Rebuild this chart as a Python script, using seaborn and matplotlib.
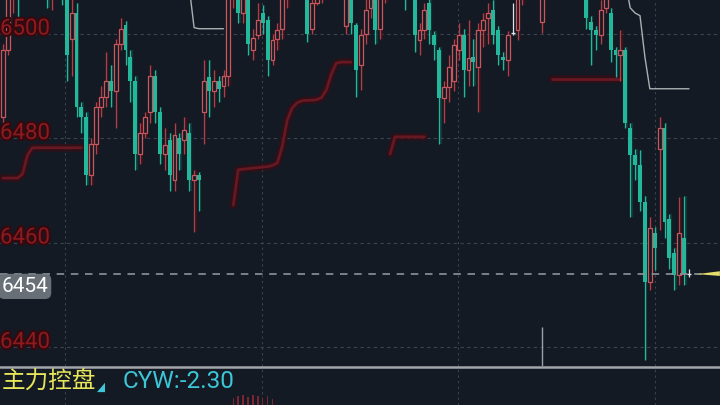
import numpy as np
import pandas as pd
import matplotlib
matplotlib.use('Agg')
import matplotlib.pyplot as plt
import matplotlib.patheffects as pe
from matplotlib.patches import Polygon
import seaborn as sns

# candle data (one bar per slot, left to right)
opens = [6484, 6497, 6507, 6510, 6508, 6513, 6515, 6513, 6514, 6511,
         6509, 6511, 6513, 6512, 6499, 6504, 6486, 6484, 6473, 6479,
         6486, 6488, 6491, 6489, 6498, 6501.7, 6495.6, 6491, 6477, 6481,
         6485, 6492, 6485, 6477, 6479.7, 6472, 6480, 6479.7, 6481, 6472,
         6473, 6485, 6491.8, 6489, 6491, 6490, 6492, 6507, 6512, 6504,
         6508, 6497, 6499.8, 6504, 6502.7, 6495, 6499, 6501, 6507, 6511,
         6514, 6510, 6511, 6501, 6506, 6507, 6511, 6513, 6510, 6512,
         6501.5, 6510, 6501.7, 6494, 6500, 6505, 6509, 6501, 6508, 6513,
         6516, 6514, 6512, 6509, 6513, 6498.8, 6500.8, 6505.9, 6499.8, 6496.9,
         6487.7, 6489.8, 6491, 6496.9, 6499.8, 6493.1, 6495.6, 6493.7, 6500.8, 6503,
         6504.6, 6500.8, 6495.6, 6495, 6500.2, 6500.8, 6507, 6512, 6514, 6511,
         6502.2, 6509, 6513, 6516, 6518, 6515, 6513, 6514, 6511, 6510,
         6502.2, 6500.8, 6499.8, 6505, 6504, 6496.9, 6496, 6496.9, 6482, 6476.8,
         6474.9, 6467.8, 6452.4, 6461.9, 6478, 6482, 6464.6, 6458, 6453.8, 6461,
         6454]
highs = [6498, 6510, 6512, 6514, 6515, 6517, 6518, 6516, 6517, 6513,
         6512, 6515, 6515, 6514, 6507, 6506, 6487, 6485, 6480, 6487,
         6490, 6496.5, 6494, 6499, 6503, 6502.5, 6497, 6492, 6483, 6485,
         6494, 6493, 6486, 6482, 6481, 6483, 6481, 6484, 6483, 6474,
         6473.5, 6495, 6495, 6493, 6492, 6493, 6510, 6514, 6513, 6510,
         6509, 6501, 6506, 6505.5, 6503.5, 6500, 6502, 6510, 6514, 6517,
         6516, 6513, 6512, 6509, 6510, 6513, 6515, 6516, 6514, 6514,
         6510, 6511, 6502, 6501, 6507, 6511, 6510, 6510, 6515, 6518,
         6520, 6517, 6514, 6515, 6514, 6502, 6506, 6507, 6500.5, 6497.5,
         6491, 6496, 6499, 6502, 6501, 6502.7, 6499, 6502, 6504, 6506,
         6506.5, 6501.5, 6496.5, 6500.5, 6506, 6510, 6514, 6516, 6517, 6514,
         6512, 6515, 6518, 6520, 6521, 6518, 6516, 6517, 6514, 6512,
         6503.5, 6501.5, 6506.5, 6510, 6505, 6497.5, 6500.8, 6497.5, 6483, 6478,
         6477.8, 6469, 6465, 6463, 6484, 6483, 6465.5, 6459, 6468.8, 6469,
         6455]
lows = [6483, 6496, 6504, 6503, 6507, 6511, 6512, 6510, 6510, 6505,
        6504.5, 6508, 6505.5, 6491, 6492, 6484, 6481, 6471, 6471, 6477,
        6484, 6486, 6486, 6482, 6497, 6494, 6487, 6474, 6475, 6480,
        6483, 6483, 6475, 6474, 6470, 6470, 6474, 6477, 6470, 6462,
        6466, 6479, 6484, 6486, 6487, 6488, 6490, 6505, 6502, 6502,
        6496, 6495, 6499, 6500, 6492, 6494, 6497, 6499, 6505, 6509,
        6508, 6507, 6498.5, 6500, 6505.5, 6506, 6508, 6509, 6508, 6507,
        6500, 6500, 6488, 6489.3, 6498, 6503, 6498, 6499, 6506, 6510,
        6513, 6509, 6504.5, 6508, 6496.5, 6496, 6499, 6498, 6495, 6479,
        6483, 6487, 6489, 6495, 6488, 6490, 6490, 6485, 6497.5, 6498,
        6498, 6494, 6493, 6492, 6499.8, 6498.8, 6505.5, 6509, 6510, 6507,
        6500.2, 6507, 6510, 6513, 6514, 6511, 6509, 6510, 6508, 6501,
        6494, 6497, 6498, 6504, 6494.6, 6491.8, 6491, 6482, 6465, 6472,
        6466, 6437.5, 6451, 6454.8, 6462.5, 6461, 6455, 6451, 6452, 6452,
        6453.5]
closes = [6497, 6507, 6510, 6508, 6513, 6515, 6513, 6514, 6511, 6509,
          6511, 6513, 6512, 6496, 6504, 6486, 6484, 6473, 6479, 6486,
          6488, 6491, 6489, 6498, 6501, 6497, 6491, 6477, 6481, 6484,
          6492, 6485, 6477, 6478.7, 6473, 6480.6, 6477, 6481.6, 6472, 6473,
          6472, 6491, 6489, 6491, 6489.5, 6492, 6507, 6512, 6504, 6508,
          6498, 6499.2, 6502.7, 6502, 6495, 6498.8, 6500.8, 6507, 6511, 6514,
          6510, 6511, 6500, 6506, 6507, 6511, 6513, 6510, 6512, 6508,
          6508, 6502, 6493, 6499.8, 6504.6, 6509, 6500.8, 6508, 6513, 6516,
          6514, 6512, 6509, 6513, 6499.8, 6500.8, 6504.6, 6500.8, 6497.9, 6487.7,
          6489.8, 6493.7, 6497.9, 6499.8, 6493.1, 6495.4, 6494.6, 6500.8, 6502.7, 6504,
          6499.8, 6496, 6495, 6499.8, 6500.2, 6507, 6512, 6514, 6511, 6509,
          6509, 6513, 6516, 6518, 6515, 6513, 6514, 6511, 6510, 6503,
          6500.8, 6499.8, 6504.6, 6508, 6496.9, 6496, 6496.9, 6483, 6476.8, 6474.9,
          6467.8, 6452.4, 6462.8, 6459, 6482, 6464, 6457, 6453.8, 6461.9, 6454,
          6454]

# stepped support line (dark red), in pieces
support_segments = [
    ([0, 1, 2, 3, 4, 5, 6, 7, 8, 9, 10, 11, 12, 13, 14, 15, 16],
     [6472.4, 6472.4, 6472.4, 6472.4, 6473.2, 6476.8, 6478.2, 6478.2, 6478.2,
      6478.2, 6478.2, 6478.2, 6478.2, 6478.2, 6478.2, 6478.2, 6478.2]),
    ([47, 48, 49, 50, 51, 52, 53, 54, 55, 56, 57, 58, 59, 60, 61, 62, 63, 64,
      65, 66, 67, 68, 69, 70, 71],
     [6467.2, 6474.0, 6474.1, 6474.2, 6474.3, 6474.4, 6474.5, 6474.6, 6474.8,
      6475.3, 6478.5, 6483.5, 6485.8, 6486.8, 6487.2, 6487.3, 6487.3, 6487.4,
      6487.8, 6489.3, 6492.3, 6494.4, 6494.6, 6494.6, 6494.6]),
    ([79, 80, 81, 82, 83, 84, 85, 86],
     [6477.0, 6480.3, 6480.3, 6480.3, 6480.3, 6480.3, 6480.3, 6480.3]),
    ([112, 113, 114, 115, 116, 117, 118, 119, 120, 121, 122, 123, 124, 125, 126],
     [6491.4, 6491.4, 6491.4, 6491.4, 6491.4, 6491.4, 6491.4, 6491.4, 6491.4,
      6491.4, 6491.4, 6491.4, 6491.4, 6491.4, 6491.4]),
]
# thin grey resistance line
resist_segments = [
    ([38, 39, 40, 41, 42, 43, 44, 45],
     [6509, 6501.2, 6501.0, 6501.0, 6501.0, 6501.0, 6501.0, 6501.0]),
    ([127, 128, 129, 130, 131, 132, 133, 134, 135, 136, 137, 138, 139, 140],
     [6510, 6505, 6504, 6503.5, 6495.6, 6489.5, 6489.5, 6489.5, 6489.5,
      6489.5, 6489.5, 6489.5, 6489.5, 6489.5]),
]

last_price = 6454
grid_levels = [6500, 6480, 6460, 6440]
time_marks = [12.7, 52.9, 92.9, 133.1]
marker_idx = 110
marker_top = 6443.9
ind_idx = [47, 48, 49, 50, 51, 52, 53, 54, 55]
ind_vals = [7, 9, 10, 8, 10, 9, 7, 9, 6]
cyw = -2.30

bg = '#131a24'
teal = '#23b89c'
red_edge = '#cc565c'
red_wick = '#a6434b'
grid_col = '#3a4350'

sns.set_theme(style='dark', rc={'axes.facecolor': bg, 'figure.facecolor': bg})
plt.rcParams['font.family'] = ['Roboto', 'DejaVu Sans']

fig = plt.figure(figsize=(7.2, 4.05), dpi=100)
ax = fig.add_axes([0, 39 / 405, 1, 366 / 405])
ax2 = fig.add_axes([0, 0, 1, 39 / 405], sharex=ax)
for a in (ax, ax2):
    a.set_facecolor(bg)
    a.set_axis_off()

df = pd.DataFrame({'o': opens, 'h': highs, 'l': lows, 'c': closes})
df['i'] = np.arange(len(df))
up = df[df.c > df.o]
dn = df[df.c < df.o]
fl = df[df.c == df.o]
w = 0.8

# grid
for lv in grid_levels:
    ax.axhline(lv, color=grid_col, lw=0.8, dashes=(3, 3), zorder=1)
for t in time_marks:
    ax.axvline(t, color=grid_col, lw=0.8, dashes=(2, 3), zorder=1)
    ax2.axvline(t, color=grid_col, lw=0.8, dashes=(2, 3), zorder=1)

# support / resistance
for xs, ys in support_segments:
    sns.lineplot(x=xs, y=ys, ax=ax, color='#3a0c14', lw=5.5, alpha=0.7, zorder=2,
                 solid_joinstyle='round', solid_capstyle='round')
    sns.lineplot(x=xs, y=ys, ax=ax, color='#661823', lw=2, zorder=2,
                 solid_joinstyle='round', solid_capstyle='round')
for xs, ys in resist_segments:
    sns.lineplot(x=xs, y=ys, ax=ax, color='#a9b0b2', lw=1, zorder=2)

# candles
ax.vlines(dn.i + 0.3, dn.l, dn.h, color='#124a44', lw=1.6, alpha=0.6, zorder=3)
ax.vlines(dn.i, dn.l, dn.h, color=teal, lw=0.9, zorder=3)
ax.bar(dn.i, (dn.o - dn.c), bottom=dn.c, width=w, color=teal, lw=0, zorder=4)
ax.vlines(up.i + 0.3, up.l, up.h, color='#4a1018', lw=1.6, alpha=0.7, zorder=3)
ax.vlines(up.i, up.l, up.h, color=red_wick, lw=0.9, zorder=3)
ax.bar(up.i, (up.c - up.o), bottom=up.o, width=w, facecolor=bg,
       edgecolor=red_edge, lw=0.9, zorder=4)
ax.vlines(fl.i, fl.l, fl.h, color='#dfe3e6', lw=0.9, zorder=3)
ax.hlines(fl.c, fl.i - w / 2, fl.i + w / 2, color='#dfe3e6', lw=1, zorder=4)

ax.vlines(marker_idx, 6436.4, marker_top, color='#9ca1a6', lw=1, zorder=3)

# last price
ax.axhline(last_price, color='#8d939a', lw=1.2, dashes=(4.5, 4), zorder=5)

ax.set_xlim(-3 / 4.9, 717 / 4.9)
ax.set_ylim(6436.4, 6506.5)

arrow = Polygon([[141.6, last_price], [146.3, last_price + 0.55],
                 [146.3, last_price - 0.35]], closed=True,
                facecolor='#e6dd6a', edgecolor='none', zorder=6)
ax.add_patch(arrow)

glow = [pe.withStroke(linewidth=3, foreground='#35090e')]
for lv in grid_levels:
    ax.annotate(str(lv), xy=(ax.get_xlim()[0], lv), xytext=(0, 3.5),
                textcoords='offset points', va='center', ha='left',
                fontsize=16, color='#8c1b20', path_effects=glow, zorder=7)

ax.annotate(str(last_price), xy=(ax.get_xlim()[0], last_price), xytext=(1, -2),
            textcoords='offset points', va='top', ha='left', fontsize=15,
            color='white', zorder=8,
            bbox=dict(boxstyle='round,pad=0.15,rounding_size=0.3',
                      facecolor='#737981', edgecolor='none', alpha=0.9))

# bottom panel
ax2.set_ylim(0, 39)
ax2.axhline(38.3, color='#a3a7ab', lw=1.8)
ax2.bar(ind_idx, ind_vals, width=0.3, color='#7a2531', lw=0, zorder=2)
ax2.text(2 / 720, 0.6, '主力控盘', transform=ax2.transAxes, va='center',
         ha='left', fontsize=17, color='#e8e65a',
         family=['Noto Sans CJK SC', 'DejaVu Sans'])
tri = Polygon([[105 / 720, 0.33], [105 / 720, 0.57], [97 / 720, 0.33]],
              closed=True, transform=ax2.transAxes, facecolor='#3cc8d8',
              edgecolor='none')
ax2.add_patch(tri)
ax2.text(123 / 720, 0.6, f'CYW:{cyw:.2f}', transform=ax2.transAxes,
         va='center', ha='left', fontsize=17.5, color='#3cc6d6')

fig.savefig('out.png', dpi=100, facecolor=bg)
